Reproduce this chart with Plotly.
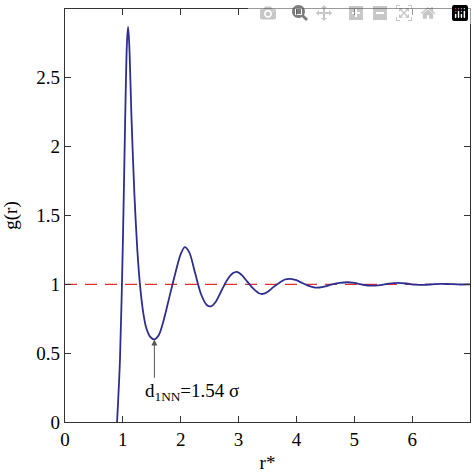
import plotly.graph_objects as go

r = [0.90, 0.95, 1.00, 1.04, 1.07, 1.09, 1.11, 1.15, 1.20, 1.25, 1.30, 1.35, 1.40, 1.47, 1.54, 1.62, 1.70, 1.80, 1.90, 2.00,
     2.07, 2.15, 2.25, 2.35, 2.45, 2.52, 2.60, 2.70, 2.80, 2.90, 2.97, 3.05, 3.15, 3.25, 3.35, 3.42, 3.50, 3.60, 3.70, 3.80,
     3.90, 4.00, 4.10, 4.20, 4.30, 4.40, 4.50, 4.60, 4.75, 4.88, 5.00, 5.15, 5.30, 5.45, 5.60, 5.75, 5.90, 6.05, 6.20, 6.35,
     6.50, 6.65, 6.80, 7.00]
g = [0.0, 0.45, 1.30, 2.20, 2.75, 2.87, 2.75, 2.20, 1.65, 1.25, 0.98, 0.80, 0.69, 0.62, 0.60, 0.63, 0.73, 0.90, 1.07, 1.22,
     1.27, 1.23, 1.08, 0.93, 0.85, 0.84, 0.87, 0.95, 1.03, 1.08, 1.09, 1.07, 1.02, 0.97, 0.935, 0.93, 0.945, 0.98, 1.01, 1.035,
     1.04, 1.03, 1.01, 0.99, 0.978, 0.977, 0.985, 0.998, 1.01, 1.015, 1.01, 0.997, 0.99, 0.995, 1.005, 1.01, 1.006, 0.998, 0.996, 1.0,
     1.004, 1.002, 0.999, 1.0]
ref_x = [0, 7]
ref_y = [1, 1]
x_ticks = [0, 1, 2, 3, 4, 5, 6, 7]
y_ticks = [0, 0.5, 1, 1.5, 2, 2.5, 3]
y_labels = ["0", "0.5", "1", "1.5", "2", "2.5", "3"]

fig = go.Figure()
fig.add_trace(go.Scatter(x=ref_x, y=ref_y, mode="lines", cliponaxis=False,
                         line=dict(color="#e03030", width=1.3, dash="12px,8px")))
fig.add_trace(go.Scatter(x=r, y=g, mode="lines", line=dict(color="#2e2e90", width=1.8, shape="spline", smoothing=0.8)))

font = dict(family="Liberation Serif, Times New Roman, serif", size=19, color="black")
axis_common = dict(showgrid=False, zeroline=False, showline=True, linecolor="#333", linewidth=1.2,
                   mirror="allticks", ticks="inside", ticklen=6, tickcolor="#333", tickfont=font)
fig.update_xaxes(range=[0, 7], tickvals=x_ticks, title=dict(text="r*", font=font, standoff=6), **axis_common)
fig.update_yaxes(range=[0, 3], tickvals=y_ticks, ticktext=y_labels, title=dict(text="g(r)", font=font, standoff=14), **axis_common)

fig.add_annotation(x=1.545, y=0.6, ax=1.545, ay=0.31, axref="x", ayref="y", xref="x", yref="y",
                   showarrow=True, arrowhead=2, arrowsize=1.2, arrowwidth=1, arrowcolor="#555", text="")
fig.add_annotation(x=2.2, y=0.22, xref="x", yref="y", showarrow=False,
                   text="d<sub>1NN</sub>=1.54 σ", font=font)

fig.update_layout(width=474, height=474, margin=dict(l=65, r=4, t=9, b=52),
                  plot_bgcolor="white", paper_bgcolor="white", showlegend=False)
fig.write_html("out.html", post_script="document.body.style.margin='0';document.body.style.overflow='hidden';")
